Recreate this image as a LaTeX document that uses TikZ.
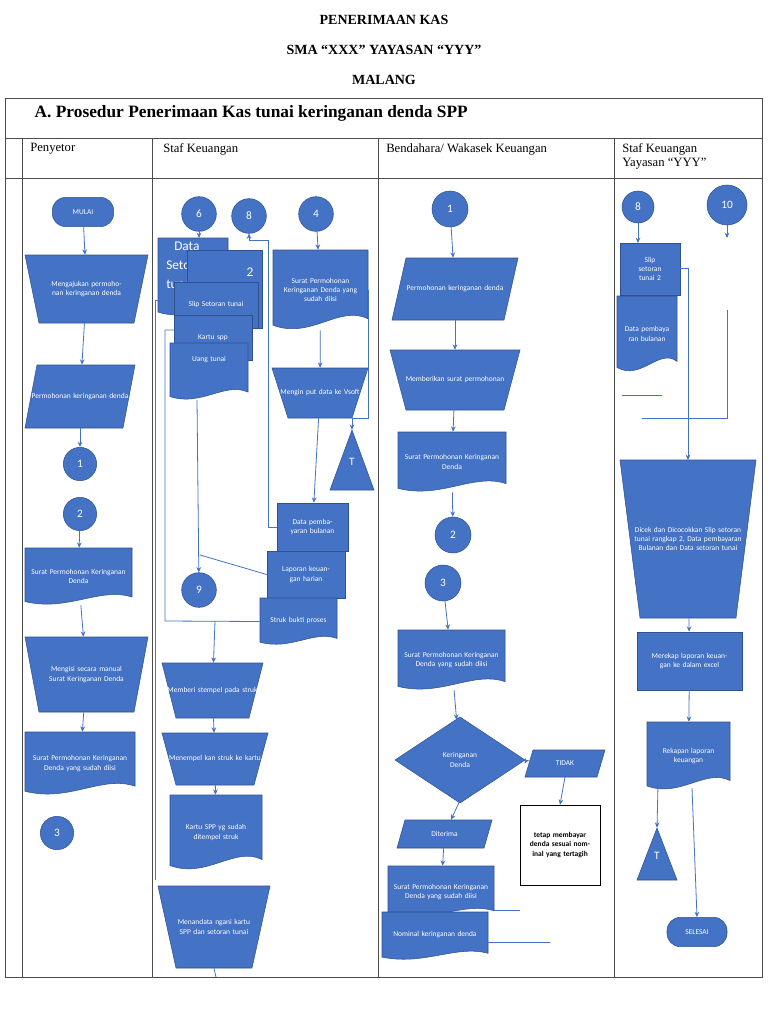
\documentclass[tikz,border=0pt]{standalone}
\usepackage{fontspec}
\setmainfont{Liberation Serif}
\newfontfamily\calfnt{Carlito}
\usetikzlibrary{arrows.meta}
\definecolor{blu}{HTML}{4472C4}
\definecolor{bdr}{HTML}{2F528F}
\tikzset{
 sh/.style={fill=blu,draw=bdr,line width=0.4pt},
 inv/.style={inner sep=1pt,text=white,align=center,font=\calfnt\fontsize{5.6}{6.9}\selectfont},
 circ/.style={circle,fill=blu,draw=bdr,text=white,inner sep=0pt,font=\calfnt\fontsize{8.5}{10}\selectfont},
 term/.style={rectangle,rounded corners=10pt,fill=blu,draw=bdr,text=white,inner sep=0pt,font=\calfnt\fontsize{5.6}{7}\selectfont},
 arr/.style={draw=blu,line width=0.6pt,-{Stealth[length=4pt,width=3.5pt]}},
 ln/.style={draw=blu,line width=0.6pt},
 grid/.style={draw=black!70,line width=0.6pt},
 ttl/.style={font=\bfseries\fontsize{10.5}{12}\selectfont},
 lane/.style={font=\fontsize{9.5}{11}\selectfont,anchor=north west,align=left,inner sep=0pt}
}
\newcommand\mknode[6]{\node[inv,minimum width={(#4-#2)*0.75pt},minimum height={(#5-#3)*0.75pt},text width={(#4-#2)*0.75pt-6pt}] (#1) at ({(#2+#4)/2},{(#3+#5)/2}) {#6};}
\newcommand\rectn[6]{\path[sh] (#2,#3) rectangle (#4,#5); \mknode{#1}{#2}{#3}{#4}{#5}{#6}}
\newcommand\docn[6]{\path[sh] (#2,#3) -- (#4,#3) -- (#4,{#5-0.14*(#5-#3)}) .. controls ({#4-0.3*(#4-#2)},{#5-0.32*(#5-#3)}) and ({#2+0.4*(#4-#2)},{#5+0.12*(#5-#3)}) .. (#2,{#5-0.06*(#5-#3)}) -- cycle; \node[inv,minimum width={(#4-#2)*0.75pt},minimum height={(#5-#3)*0.75pt},text width={(#4-#2)*0.75pt-6pt}] (#1) at ({(#2+#4)/2},{(#3+#5)/2}) {\raisebox{3pt}{\parbox{\linewidth}{\centering #6}}};}
\newcommand\trapn[7]{\path[sh] (#2,#3) -- (#4,#3) -- ({#4-#6},#5) -- ({#2+#6},#5) -- cycle; \mknode{#1}{#2}{#3}{#4}{#5}{#7}}
\newcommand\paran[7]{\path[sh] ({#2+#6},#3) -- (#4,#3) -- ({#4-#6},#5) -- (#2,#5) -- cycle; \mknode{#1}{#2}{#3}{#4}{#5}{#7}}
\newcommand\trin[5]{\path[sh] ({(#2+#4)/2},#3) -- (#4,#5) -- (#2,#5) -- cycle; \node[inv,font=\calfnt\fontsize{8.5}{10}\selectfont,minimum width={(#4-#2)*0.75pt},minimum height={(#5-#3)*0.75pt}] (#1) at ({(#2+#4)/2},{(#3+#5)/2}) {\raisebox{-8pt}{T}};}
\begin{document}
\begin{tikzpicture}[x=0.75pt,y=-0.75pt]
\useasboundingbox (0,0) rectangle (768,1024);
\fill[white] (0,0) rectangle (768,1024);
% titles
\node[ttl] (t1) at (384,20) {PENERIMAAN KAS};
\node[ttl] (t2) at (384,50) {SMA “XXX” YAYASAN “YYY”};
\node[ttl] (t3) at (384,80) {MALANG};
% table
\draw[grid] (5,98) rectangle (762,977);
\draw[grid] (5,138) -- (762,138);
\draw[grid] (5,178) -- (762,178);
\foreach \x in {22,152,378,614} \draw[grid] (\x,138) -- (\x,977);
\node[anchor=west,font=\bfseries\fontsize{13}{15}\selectfont] (hdr) at (30,113) {A. Prosedur Penerimaan Kas tunai keringanan denda SPP};
\node[lane] (l1) at (30,143) {Penyetor};
\node[lane] (l2) at (163,143) {Staf Keuangan};
\node[lane] (l3) at (386,143) {Bendahara/ Wakasek Keuangan};
\node[lane] (l4) at (622,143) {Staf Keuangan\\Yayasan “YYY”};
% ===== Penyetor
\node[term,minimum width=46pt,minimum height=22pt] (mulai) at (83,212) {MULAI};
\trapn{p1}{25}{255}{148}{323}{14}{Mengajukan permohonan keringanan denda}
\paran{p2}{25}{365}{135}{428}{12}{Permohonan keringanan denda}
\node[circ,minimum size=25pt] (pc1) at (80,464) {1};
\node[circ,minimum size=25pt] (pc2) at (80,514) {2};
\docn{p3}{25}{548}{132}{605}{Surat Permohonan Keringanan Denda}
\trapn{p4}{25}{637}{148}{712}{14}{Mengisi secara manual Surat Keringanan Denda}
\docn{p5}{25}{732}{135}{795}{Surat Permohonan Keringanan Denda yang sudah diisi}
\node[circ,minimum size=25pt] (pc3) at (57,833) {3};
\draw[arr] (mulai) -- (p1);
\draw[arr] (p1) -- (p2);
\draw[arr] (p2) -- (pc1);
\draw[arr] (pc2) -- (p3);
\draw[arr] (p3) -- (p4);
\draw[arr] (p4) -- (p5);
% ===== Staf Keuangan
\node[circ,minimum size=26pt] (s6) at (199,214) {6};
\node[circ,minimum size=26pt] (s8) at (249,216) {8};
\node[circ,minimum size=26pt] (s4) at (316,214) {4};
\path[sh] (158,238) -- (228,238) -- (228,308) .. controls (208,300) and (185,322) .. (158,312) -- cycle;
\node[anchor=north west,text=white,align=left,font=\calfnt\fontsize{10}{14}\selectfont,inner sep=0pt] (ds) at (166,242) {\hspace{6pt}Data\\Setoran\\tunai};
\path[sh] (187,250) rectangle (262,328);
\node[text=white,font=\calfnt\fontsize{10}{12}\selectfont,inner sep=0pt] (d2) at (250,272) {2};
\rectn{sslip}{174}{282}{258}{328}{Slip Setoran tunai}
\rectn{skartu}{174}{315}{252}{360}{Kartu spp}
\docn{suang}{170}{343}{248}{400}{Uang tunai\\[18pt]}
\docn{s5}{273}{250}{368}{330}{Surat Permohonan Keringanan Denda yang sudah diisi}
\trapn{s7}{272}{368}{368}{418}{16}{Mengin put data ke Vsoft}
\trin{st}{330}{430}{374}{490}
\rectn{sdp}{277}{503}{348}{551}{Data pembayaran bulanan}
\rectn{slap}{267}{551}{345}{598}{Laporan keuangan harian}
\docn{sstruk}{260}{598}{337}{645}{Struk bukti proses}
\node[circ,minimum size=26pt] (s9) at (199,590) {9};
\trapn{sm1}{162}{663}{263}{718}{14}{Memberi stempel pada struk}
\trapn{sm2}{162}{733}{268}{785}{14}{Menempel kan struk ke kartu}
\docn{sk}{170}{795}{262}{870}{Kartu SPP yg sudah ditempel struk}
\trapn{sm3}{158}{886}{270}{968}{18}{Menandata ngani kartu SPP dan setoran tunai}
\coordinate (send) at (216,977);
\draw[arr] (s6) -- (199,238);
\draw[arr] (s4) -- (s5);
\draw[arr] (s5) -- (s7);
\draw[arr] (368,290) -- (368,418) -- (352,418) -- (st.north);
\draw[arr] (s7) -- (sdp);
\draw[arr] (sdp.west) -- (268,527) -- (268,240) -- (249,240) -- (s8);
\draw[arr] (197,400) -- (s9);
\draw[ln] (slap.west) -- (200,555);
\draw[ln] (sstruk.west) -- (165,621) -- (165,330) -- (174,330);
\draw[ln] (158,300) -- (155,300) -- (155,880);
\draw[arr] (215,621) -- (sm1);
\draw[arr] (sm1) -- (sm2);
\draw[arr] (sm2) -- (sk);
\draw[ln] (sm3.south) -- (send);
% ===== Bendahara
\node[circ,minimum size=27pt] (b1) at (450,209) {1};
\paran{b2}{392}{258}{518}{320}{14}{Permohonan keringanan denda}
\trapn{b3}{390}{350}{520}{410}{16}{Memberikan surat permohonan}
\docn{b4}{398}{432}{506}{492}{Surat Permohonan Keringanan Denda}
\node[circ,minimum size=27pt] (b5) at (453,535) {2};
\node[circ,minimum size=27pt] (b6) at (443,583) {3};
\docn{b7}{398}{630}{505}{690}{Surat Permohonan Keringanan Denda yang sudah diisi}
\path[sh] (460,717) -- (525,760) -- (460,803) -- (395,760) -- cycle;
\node[inv,minimum width=70pt,minimum height=60pt] (bd) at (460,760) {Keringanan\\Denda};
\paran{btidak}{525}{750}{605}{777}{8}{TIDAK}
\node[draw=black,fill=white,align=center,font=\calfnt\bfseries\fontsize{5.6}{6.9}\selectfont,minimum width=60pt,minimum height=60pt,text width=54pt,inner sep=1pt] (btetap) at (560,845) {tetap membayar denda sesuai nominal yang tertagih};
\paran{bditer}{397}{820}{492}{848}{8}{Diterima}
\docn{b8}{388}{866}{494}{918}{Surat Permohonan Keringanan Denda yang sudah diisi}
\docn{b9}{382}{912}{488}{960}{Nominal keringanan denda}
\draw[arr] (b1) -- (b2);
\draw[arr] (b2) -- (b3);
\draw[arr] (b3) -- (b4);
\draw[arr] (b4) -- (b5);
\draw[arr] (b6) -- (b7);
\draw[arr] (b7) -- (bd);
\draw[arr] (525,763) -- (btidak.west);
\draw[arr] (565,777) -- (btetap.north);
\draw[arr] (bd.south) -- (bditer);
\draw[arr] (bditer) -- (b8);
\draw[ln] (494,910) -- (520,910);
\draw[ln] (488,942) -- (550,942);
% ===== Yayasan
\node[circ,minimum size=24pt] (y8) at (638,207) {8};
\node[circ,minimum size=30pt] (y10) at (727,205) {10};
\rectn{yslip}{620}{243}{680}{295}{Slip\\setoran\\tunai 2}
\docn{ydp}{617}{296}{677}{372}{Data pembaya ran bulanan}
\trapn{ycek}{620}{460}{756}{618}{20}{Dicek dan Dicocokkan Slip setoran tunai rangkap 2, Data pembayaran Bulanan dan Data setoran tunai}
\rectn{yrek}{637}{632}{742}{690}{Merekap laporan keuangan ke dalam excel}
\docn{yrl}{647}{722}{730}{790}{Rekapan laporan keuangan}
\trin{yt}{637}{828}{677}{880}
\node[term,minimum width=45pt,minimum height=22pt] (sel) at (697,932) {SELESAI};
\coordinate (y10e) at (727,238);
\draw[arr] (y10) -- (y10e);
\draw[arr] (y8) -- (638,243);
\draw[ln] (622,395) -- (662,395);
\draw[ln] (727,310) -- (727,418) -- (642,418);
\draw[arr] (680,268) -- (688,268) -- (688,460);
\draw[arr] (ycek) -- (yrek);
\draw[arr] (yrek) -- (yrl);
\draw[arr] (658,785) -- (yt.north);
\draw[arr] (692,788) -- (sel.north);
\end{tikzpicture}
\end{document}
